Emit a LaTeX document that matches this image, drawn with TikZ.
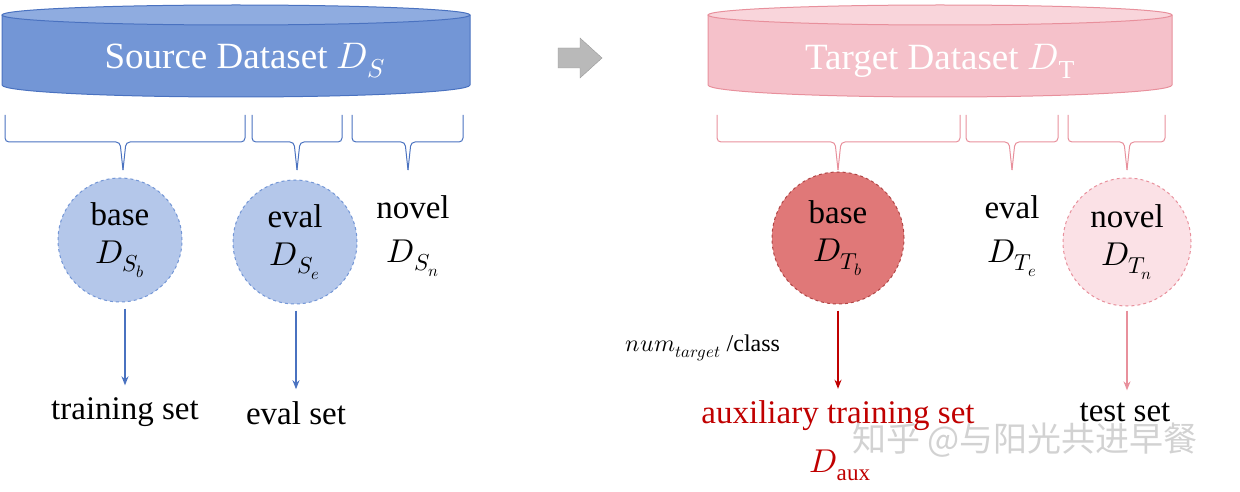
\documentclass[tikz,border=0pt]{standalone}
\usepackage{fontspec}
\usepackage{unicode-math}
\setmainfont{Liberation Serif}
\setmathfont{Latin Modern Math}
\newfontfamily\cjk{Noto Sans CJK SC}
\usetikzlibrary{arrows.meta}
\definecolor{sblue}{HTML}{7396D6}
\definecolor{sbluetop}{HTML}{8FACE0}
\definecolor{sedge}{HTML}{4A72C0}
\definecolor{cblue}{HTML}{B4C7EA}
\definecolor{tpink}{HTML}{F5C1CA}
\definecolor{tpinktop}{HTML}{F9D5DB}
\definecolor{tedge}{HTML}{E8909C}
\definecolor{cred}{HTML}{E07878}
\definecolor{credge}{HTML}{B04545}
\definecolor{clight}{HTML}{FBE1E6}
\definecolor{dred}{HTML}{C00000}
\tikzset{
 lbl/.style={font=\fontsize{33}{36}\selectfont, inner sep=0pt},
 cyl/.style={font=\fontsize{37}{40}\selectfont, inner sep=0pt, text=white},
 brc/.style={line width=1pt, rounded corners=4pt},
 circ/.style={circle, minimum size=124pt, dashed, line width=1pt, align=center, font=\fontsize{33}{36}\selectfont, inner sep=0pt},
 arr/.style={line width=1.3pt, -{Stealth[length=9pt,width=7pt]}, shorten >=12pt}
}
\begin{document}
\begin{tikzpicture}[x=1pt,y=-1pt]
\useasboundingbox (0,0) rectangle (1240,492);
% source cylinder
\fill[sblue] (2,15) -- (2,85) arc[x radius=234, y radius=12, start angle=180, end angle=0] -- (470,15) -- cycle;
\draw[sedge, line width=1pt] (2,15) -- (2,85) arc[x radius=234, y radius=12, start angle=180, end angle=0] -- (470,15);
\draw[sedge, fill=sbluetop, line width=1pt] (236,15) ellipse[x radius=234, y radius=10];
\node[cyl] (src) at (245,61) {Source Dataset $D_S$};
% gray arrow
\draw[gray!80, fill=gray!55] (558,48) -- (580,48) -- (580,38) -- (602,58) -- (580,78) -- (580,68) -- (558,68) -- cycle;
% target cylinder
\fill[tpink] (708,15) -- (708,85) arc[x radius=232, y radius=12, start angle=180, end angle=0] -- (1172,15) -- cycle;
\draw[tedge, line width=1pt] (708,15) -- (708,85) arc[x radius=232, y radius=12, start angle=180, end angle=0] -- (1172,15);
\draw[tedge, fill=tpinktop, line width=1pt] (940,15) ellipse[x radius=232, y radius=10];
\node[cyl] (tgt) at (940,61) {Target Dataset $D_{\mathrm{T}}$};
% braces
\foreach \a/\b/\c/\col in {5/245/123/sedge, 252/342/297/sedge, 352/463/408/sedge, 717/960/838/tedge, 966/1058/1012/tedge, 1068/1165/1127/tedge}{
 \draw[brc, \col] (\a,115) -- (\a,142) -- (\c-3,142) -- (\c,170);
 \draw[brc, \col] (\b,115) -- (\b,142) -- (\c+3,142) -- (\c,170);
}
% circles
\node[circ, fill=cblue, draw=sblue] (sb) at (120,240) {base\\[2pt]$D_{S_b}$};
\node[circ, fill=cblue, draw=sblue] (se) at (295,242) {eval\\[2pt]$D_{S_e}$};
\node[lbl, align=center] (sn) at (413,236) {novel\\[8pt]$D_{S_n}$};
\node[circ, fill=cred, draw=credge, minimum size=132pt] (tb) at (838,238) {base\\[2pt]$D_{T_b}$};
\node[lbl, align=center] (te) at (1012,236) {eval\\[8pt]$D_{T_e}$};
\node[circ, fill=clight, draw=tedge, minimum size=128pt] (tn) at (1127,242) {novel\\[2pt]$D_{T_n}$};
% labels
\node[lbl] (tr) at (125,412) {training set};
\node[lbl] (ev) at (296,413) {eval set};
\node[lbl, text=dred] (aux) at (838,416) {auxiliary training set};
\node[lbl, text=dred] (daux) at (840,465) {$D_{\mathrm{aux}}$};
\node[lbl] (ts) at (1125,412) {test set};
\node[font=\fontsize{24}{26}\selectfont, inner sep=0pt] (num) at (703,348) {$num_{target}$ /class};
% arrows
\draw[arr, sedge] (sb.south -| 125,0) ++(0,6) -- (tr.north -| 125,0);
\draw[arr, sedge] (se.south -| 296,0) ++(0,6) -- (ev.north -| 296,0);
\draw[arr, dred] (tb.south) ++(0,6) -- (aux.north -| tb.south);
\draw[arr, tedge] (tn.south) ++(0,4) -- (ts.north -| tn.south);
% watermark
\node[font=\cjk\fontsize{34}{36}\selectfont, text=gray!35, inner sep=0pt] (wm) at (1025,440) {知乎 @与阳光共进早餐};
\end{tikzpicture}
\end{document}
